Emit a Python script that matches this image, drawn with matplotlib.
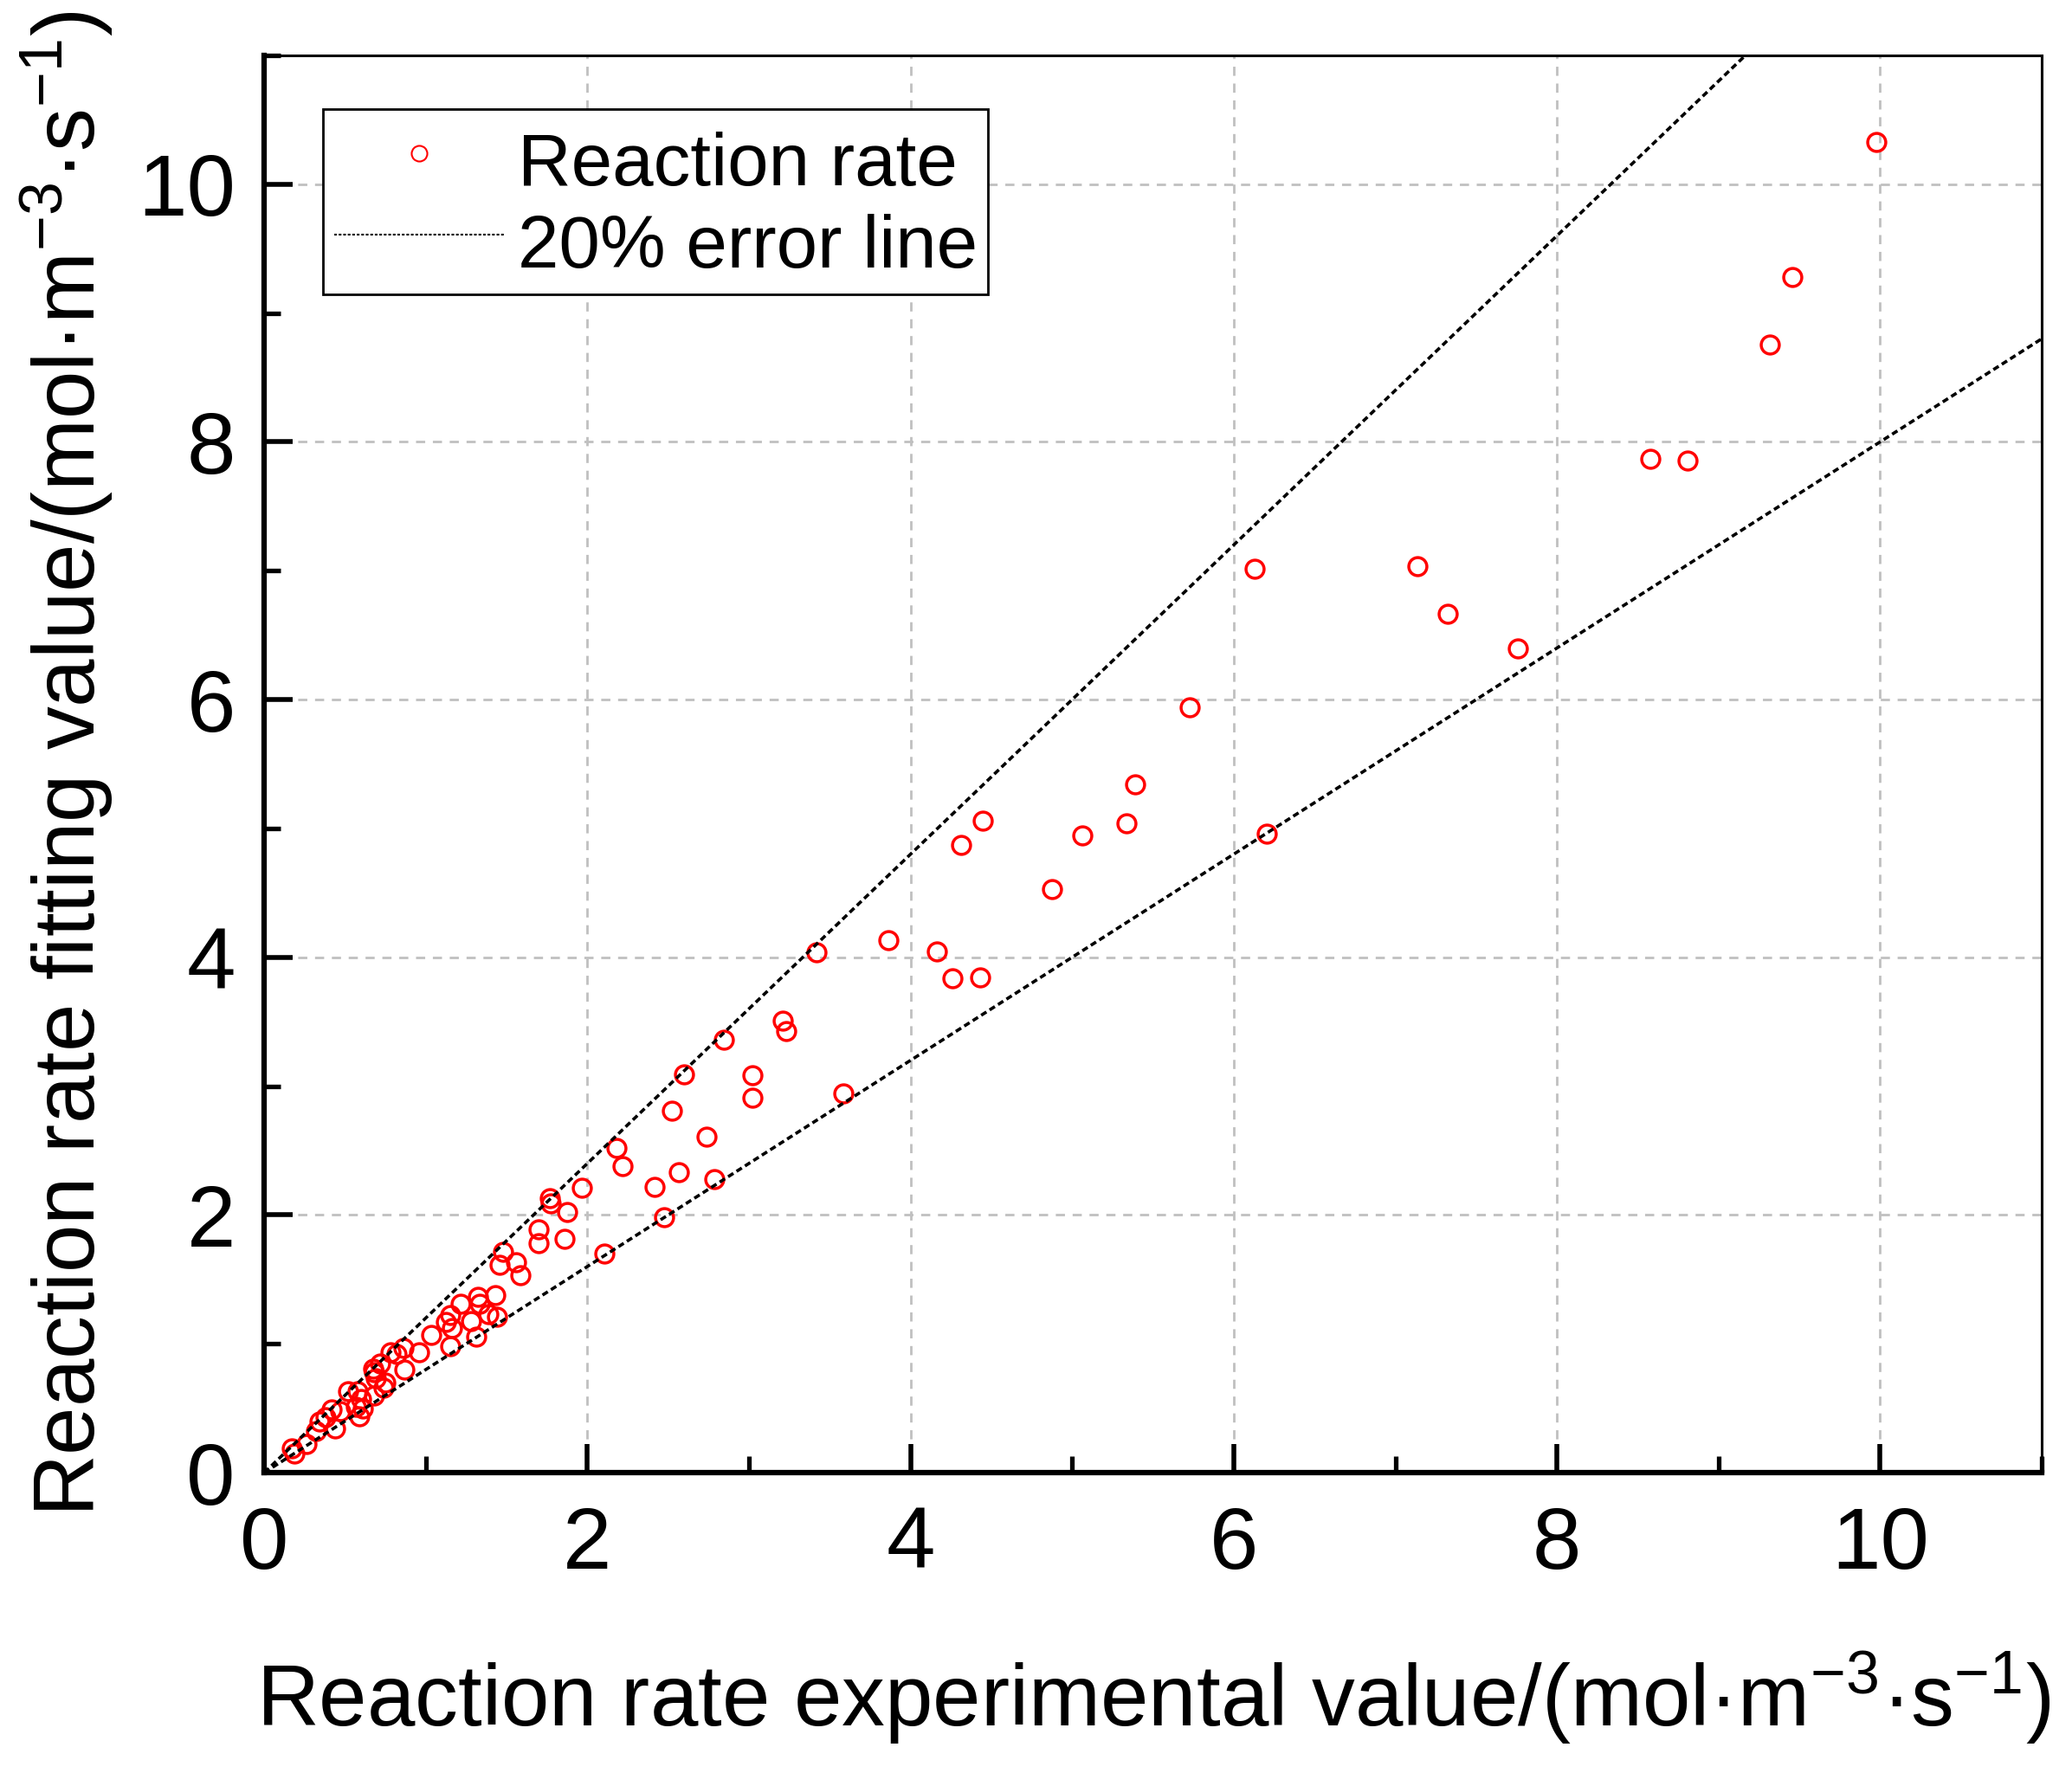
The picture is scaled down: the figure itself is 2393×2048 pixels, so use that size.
import numpy as np
import matplotlib
matplotlib.use("Agg")
import matplotlib.pyplot as plt
from matplotlib.lines import Line2D
from matplotlib.ticker import MultipleLocator

plt.rcParams['font.family'] = 'Liberation Sans'
plt.rcParams['mathtext.fontset'] = 'custom'
plt.rcParams['mathtext.rm'] = 'Liberation Sans'
plt.rcParams['mathtext.it'] = 'Liberation Sans:italic'

# experimental (x) vs fitted (y) reaction rates, mol/(m3 s)
rate_exp = [0.17, 0.185, 0.26, 0.32, 0.34, 0.38, 0.44, 0.47, 0.42, 0.52,
            0.58, 0.60, 0.57, 0.59, 0.61, 0.675, 0.69, 0.74, 0.68, 0.72,
            0.75, 0.68, 0.78, 0.82, 0.87, 0.86, 0.96, 1.035, 1.125, 1.15,
            1.16, 1.15, 1.215, 1.278, 1.314, 1.323, 1.332, 1.386, 1.43, 1.44,
            1.458, 1.48, 1.557, 1.584, 1.70, 1.70, 1.857, 1.767, 1.773, 1.876,
            1.967, 2.106, 2.18, 2.22, 2.415, 2.475, 2.525, 2.565, 2.60, 2.74,
            2.786, 2.846, 3.02, 3.02, 3.21, 3.23, 3.42, 3.585, 3.865, 4.165,
            4.26, 4.43, 4.312, 4.447, 4.873, 5.062, 5.335, 5.39, 5.727, 6.13,
            6.204, 7.138, 7.325, 7.76, 8.58, 8.807, 9.315, 9.455, 9.976]
rate_fit = [0.19, 0.15, 0.22, 0.32, 0.40, 0.43, 0.34, 0.48, 0.49, 0.63,
            0.63, 0.57, 0.51, 0.44, 0.50, 0.81, 0.73, 0.66, 0.60, 0.85,
            0.70, 0.78, 0.935, 0.92, 0.80, 0.97, 0.935, 1.07, 1.17, 1.22,
            1.12, 0.98, 1.31, 1.177, 1.054, 1.367, 1.31, 1.233, 1.378, 1.21,
            1.61, 1.715, 1.635, 1.535, 1.89, 1.78, 1.815, 2.127, 2.087, 2.02,
            2.21, 1.70, 2.52, 2.38, 2.215, 1.98, 2.81, 2.335, 3.09, 2.61,
            2.277, 3.36, 3.085, 2.91, 3.51, 3.43, 4.04, 2.94, 4.13, 4.047,
            3.84, 3.845, 4.87, 5.06, 4.53, 4.945, 5.04, 5.345, 5.94, 7.017,
            4.96, 7.037, 6.667, 6.40, 7.87, 7.856, 8.755, 9.28, 10.33]

line_x = [0, 11]
error_factors = [1.2, 0.8]

fig = plt.figure(figsize=(23.93, 20.48), dpi=100)
ax = fig.add_axes([0.1275, 0.1694, 0.8579, 0.7994])

ax.plot(rate_exp, rate_fit, linestyle='none', marker='o', markersize=15,
        markerfacecolor='none', markeredgecolor='red', markeredgewidth=2.5, zorder=3)
for f in error_factors:
    ax.plot(line_x, [f * v for v in line_x], color='black', lw=2.6,
            linestyle=(0, (2, 1.2)), zorder=4)

ax.set_xlim(0, 11)
ax.set_ylim(0, 11)
ax.xaxis.set_major_locator(MultipleLocator(2))
ax.xaxis.set_minor_locator(MultipleLocator(1))
ax.yaxis.set_major_locator(MultipleLocator(2))
ax.yaxis.set_minor_locator(MultipleLocator(1))

ax.grid(True, which='major', color='#c0c0c0', lw=2, linestyle=(0, (3.8, 3.2)), zorder=0)
ax.set_axisbelow(True)

ax.spines['left'].set_linewidth(4.5)
ax.spines['bottom'].set_linewidth(4.5)
ax.spines['top'].set_linewidth(2.2)
ax.spines['right'].set_linewidth(2.2)

ax.tick_params(which='major', direction='in', length=24, width=4, labelsize=73)
ax.tick_params(which='minor', direction='in', length=14, width=3.8)
ax.tick_params(axis='x', which='major', pad=27)
ax.tick_params(axis='y', which='major', pad=24)

ax.set_xlabel('Reaction rate experimental value/(mol·m$^{-3}$·s$^{-1}$)', fontsize=71.7, labelpad=53)
ax.set_ylabel('Reaction rate fitting value/(mol·m$^{-3}$·s$^{-1}$)', fontsize=71.7, labelpad=18)

handles = [Line2D([], [], linestyle='none', marker='o', markersize=13, markerfacecolor='none',
                  markeredgecolor='red', markeredgewidth=1.5),
           Line2D([], [], color='black', lw=1.5, linestyle=(0, (1.5, 1)))]
leg = ax.legend(handles, ['Reaction rate', '20% error line'], loc='upper left',
                bbox_to_anchor=(0.033, 0.962), borderaxespad=0, fontsize=61.5,
                handlelength=2.3, handletextpad=0.18, handleheight=1.3,
                borderpad=0.15, labelspacing=0.02,
                fancybox=False, framealpha=1, edgecolor='black')
leg.get_frame().set_linewidth(2)

fig.savefig('out.png', dpi=100)
